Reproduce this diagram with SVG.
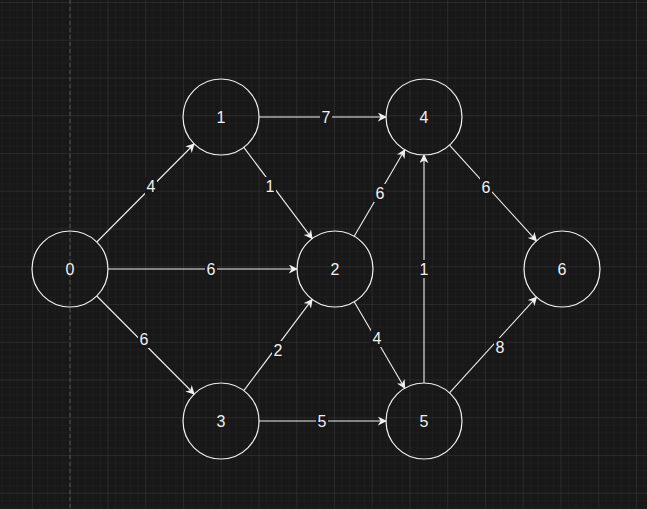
<svg xmlns="http://www.w3.org/2000/svg" width="647" height="509" viewBox="0 0 647 509">
<defs>
<pattern id="minor" x="-5.8" y="2" width="7.55" height="7.55" patternUnits="userSpaceOnUse"><path d="M0 0H7.55M0 0V7.55" stroke="#222" stroke-width="1" fill="none"/></pattern>
<pattern id="major" x="-5.8" y="2" width="37.75" height="37.75" patternUnits="userSpaceOnUse"><path d="M0 0H37.75M0 0V37.75" stroke="#363636" stroke-width="1" fill="none"/></pattern>
<marker id="arr" viewBox="0 0 10 10" refX="9" refY="5" markerWidth="9" markerHeight="9" markerUnits="userSpaceOnUse" orient="auto"><path d="M0 0L10 5L0 10L3 5Z" fill="#f0f0f0"/></marker>
</defs>
<style>
.n circle{fill:none;stroke:#f0f0f0;stroke-width:1.2}
text{font-family:"Liberation Sans",Arial,sans-serif;font-size:16px;fill:#f0f0f0;text-anchor:middle;dominant-baseline:central}
#edges line{stroke:#f0f0f0;stroke-width:1.1;marker-end:url(#arr)}
.lb{fill:#181818}
</style>
<rect width="647" height="509" fill="#181818"/>
<rect width="647" height="509" fill="url(#minor)"/>
<rect width="647" height="509" fill="url(#major)"/>
<line x1="70" y1="0" x2="70" y2="509" stroke="#555" stroke-dasharray="4 3"/>
<g id="edges">
<line x1="96.8" y1="242" x2="194.2" y2="144"/>
<line x1="108" y1="269" x2="297" y2="269"/>
<line x1="96.8" y1="296" x2="194.2" y2="394"/>
<line x1="259" y1="117" x2="386" y2="117"/>
<line x1="243.8" y1="147.4" x2="312.2" y2="238.6"/>
<line x1="243.8" y1="390.6" x2="312.2" y2="299.4"/>
<line x1="259" y1="421" x2="386" y2="421"/>
<line x1="354.2" y1="236.2" x2="404.8" y2="149.8"/>
<line x1="354.2" y1="301.8" x2="404.8" y2="388.2"/>
<line x1="424" y1="383" x2="424" y2="155"/>
<line x1="449.5" y1="145.1" x2="536.5" y2="240.9"/>
<line x1="449.5" y1="392.9" x2="536.5" y2="297.1"/>
<g id="labels">
<rect class="lb" x="145" y="177" width="12" height="18"/><text x="151" y="186">4</text>
<rect class="lb" x="205" y="260" width="12" height="18"/><text x="211" y="269">6</text>
<rect class="lb" x="138" y="330" width="12" height="18"/><text x="144" y="339">6</text>
<rect class="lb" x="320" y="108" width="12" height="18"/><text x="326" y="117">7</text>
<rect class="lb" x="264" y="177" width="12" height="18"/><text x="270" y="186">1</text>
<rect class="lb" x="272" y="341" width="12" height="18"/><text x="278" y="350">2</text>
<rect class="lb" x="316" y="412" width="12" height="18"/><text x="322" y="421">5</text>
<rect class="lb" x="374" y="184" width="12" height="18"/><text x="380" y="193">6</text>
<rect class="lb" x="371" y="329" width="12" height="18"/><text x="377" y="338">4</text>
<rect class="lb" x="418" y="260" width="12" height="18"/><text x="424" y="269">1</text>
<rect class="lb" x="480" y="178" width="12" height="18"/><text x="486" y="187">6</text>
<rect class="lb" x="494" y="338" width="12" height="18"/><text x="500" y="347">8</text>
</g>
</g>
<g id="n0" class="n"><circle cx="70" cy="269" r="38"/><text x="70" y="269">0</text></g>
<g id="n1" class="n"><circle cx="221" cy="117" r="38"/><text x="221" y="117">1</text></g>
<g id="n2" class="n"><circle cx="335" cy="269" r="38"/><text x="335" y="269">2</text></g>
<g id="n3" class="n"><circle cx="221" cy="421" r="38"/><text x="221" y="421">3</text></g>
<g id="n4" class="n"><circle cx="424" cy="117" r="38"/><text x="424" y="117">4</text></g>
<g id="n5" class="n"><circle cx="424" cy="421" r="38"/><text x="424" y="421">5</text></g>
<g id="n6" class="n"><circle cx="562" cy="269" r="38"/><text x="562" y="269">6</text></g>
</svg>
